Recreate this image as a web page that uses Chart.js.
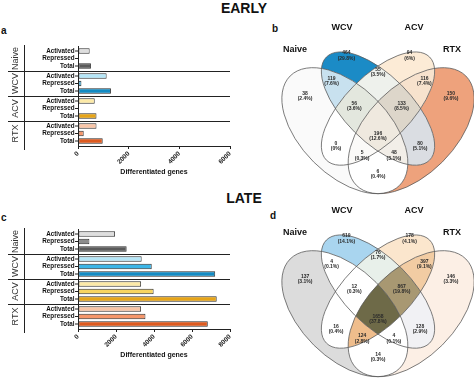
<!DOCTYPE html>
<html>
<head>
<meta charset="utf-8">
<script src="https://cdn.jsdelivr.net/npm/chart.js@4.4.0/dist/chart.umd.min.js"></script>
<style>
  html,body{margin:0;padding:0;background:#fff;}
  body{width:474px;height:379px;position:relative;overflow:hidden;font-family:"Liberation Sans",Arial,sans-serif;}
  canvas{position:absolute;}
  .t{position:absolute;font-weight:bold;color:#111;white-space:nowrap;line-height:1;}
  .big{font-size:14px;width:474px;text-align:center;left:7px;}
  .lab{font-size:10px;}
</style>
</head>
<body>
<div class="t big" style="top:1px">EARLY</div>
<div class="t big" style="top:191px">LATE</div>
<div class="t lab" style="left:1px;top:26px">a</div>
<div class="t lab" style="left:272px;top:24px">b</div>
<div class="t lab" style="left:1px;top:213px">c</div>
<div class="t lab" style="left:270px;top:211px">d</div>

<canvas id="barEarly" width="240" height="155" style="left:0;top:30px"></canvas>
<canvas id="barLate" width="240" height="155" style="left:0;top:213px"></canvas>
<canvas id="vennEarly" width="204" height="180" style="left:270px;top:20px"></canvas>
<canvas id="vennLate" width="204" height="176" style="left:270px;top:203px"></canvas>

<script>
// ===== DATA =====
const groups = ["Naive", "WCV", "ACV", "RTX"];
const series = ["Activated", "Repressed", "Total"];

const earlyActivated = [460, 1130, 660, 730];
const earlyRepressed = [15, 135, 20, 225];
const earlyTotal = [510, 1300, 730, 975];

const lateActivated = [1950, 3350, 3320, 3320];
const lateRepressed = [600, 3880, 3980, 3550];
const lateTotal = [2560, 7220, 7300, 6830];

const earlyMax = 6000;
const lateMax = 8000;
const tickStep = 2000;

// venn: N = Naive, W = WCV, A = ACV, R = RTX
const vennSets = ["Naive", "WCV", "ACV", "RTX"];
const vennKeys = ["N", "W", "A", "R"];
const regions = ["N", "W", "A", "R", "NW", "WA", "AR", "NWA", "WAR", "NWAR", "NA", "WR", "NAR", "NWR", "NR"];

const earlyCounts = [38, 464, 94, 150, 119, 55, 116, 56, 133, 196, 0, 80, 5, 48, 6];
const earlyPct = ["2.4%", "29.8%", "6%", "9.6%", "7.6%", "3.5%", "7.4%", "3.6%", "8.5%", "12.6%", "0%", "5.1%", "0.3%", "3.1%", "0.4%"];

const lateCounts = [137, 619, 178, 146, 4, 76, 397, 12, 867, 1658, 16, 128, 124, 4, 14];
const latePct = ["3.1%", "14.1%", "4.1%", "3.3%", "0.1%", "1.7%", "9.1%", "0.3%", "19.8%", "37.8%", "0.4%", "2.9%", "2.8%", "0.1%", "0.3%"];

// ===== STYLES =====
const fillActivated = ["#dedede", "#b7e7f8", "#fdeaa8", "#f9c6a8"];
const fillRepressed = ["#8c8c8c", "#3cb6e8", "#f8d460", "#f5976c"];
const fillTotal = ["#5a5a5a", "#138bc3", "#e6a418", "#dd5a1f"];

const earlyRegionFill = ["#fafafa", "#1b8bc6", "#fcebd6", "#eea27c", "#c8e1ef", "#eef1ec", "#f7e2cd",
  "#e3e7de", "#ddd6ca", "#efe9df", "#ffffff", "#dadde2", "#fbfaf8", "#f2eee8", "#ffffff"];
const lateRegionFill = ["#dcdcdc", "#a9d5ef", "#fbe6cd", "#fcefe5", "#ffffff", "#e8f0ea", "#f2cca3",
  "#ffffff", "#a89872", "#6e6a48", "#ffffff", "#f1f1f4", "#efbd8c", "#ffffff", "#ffffff"];

const FONT = "'Liberation Sans', Arial, sans-serif";

// ===== LAYOUT (venn geometry, unit square, y up) =====
const ellipses = [
  {cx: 0.35, cy: 0.47, a: 0.35, b: 0.20, rot: 135},
  {cx: 0.50, cy: 0.57, a: 0.33, b: 0.15, rot: 135},
  {cx: 0.50, cy: 0.57, a: 0.33, b: 0.15, rot: 45},
  {cx: 0.65, cy: 0.47, a: 0.35, b: 0.20, rot: 45}
];
const regionSpot = [
  [0.17, 0.625], [0.357, 0.81], [0.643, 0.81], [0.83, 0.625],
  [0.29, 0.693], [0.5, 0.735], [0.71, 0.693],
  [0.393, 0.58], [0.607, 0.58], [0.5, 0.445],
  [0.31, 0.40], [0.69, 0.40], [0.428, 0.357], [0.572, 0.357], [0.5, 0.274]
];
const setTitleSpot = [[0.124, 0.835], [0.337, 0.935], [0.663, 0.935], [0.835, 0.835]];

// ===== BAR CHART LABELS =====
const rowLabels = {
  id: "rowLabels",
  afterDraw(chart) {
    const {ctx, chartArea: a} = chart;
    const y = chart.scales.y;
    ctx.save();
    ctx.strokeStyle = "#222";
    ctx.fillStyle = "#111";
    ctx.lineWidth = 1;
    ctx.font = "bold 6.3px " + FONT;
    ctx.textAlign = "right";
    ctx.textBaseline = "middle";
    chart.data.datasets.forEach((ds, i) => {
      chart.getDatasetMeta(i).data.forEach(bar => {
        ctx.fillText(ds.label, a.left - 3.5, bar.y);
        ctx.beginPath();
        ctx.moveTo(a.left - 3, bar.y);
        ctx.lineTo(a.left, bar.y);
        ctx.stroke();
      });
    });

    // separators between groups
    for (let j = 0; j < groups.length - 1; j++) {
      const yy = Math.round((y.getPixelForValue(j) + y.getPixelForValue(j + 1)) / 2) + 0.5;
      ctx.beginPath();
      ctx.moveTo(8, yy);
      ctx.lineTo(a.right, yy);
      ctx.stroke();
    }
    ctx.beginPath();
    ctx.moveTo(24.5, a.top - 1);
    ctx.lineTo(24.5, a.bottom + 4);
    ctx.stroke();

    // group names, rotated
    ctx.font = "9px " + FONT;
    ctx.fillStyle = "#333";
    ctx.textAlign = "center";
    groups.forEach((g, j) => {
      ctx.save();
      ctx.translate(16, y.getPixelForValue(j));
      ctx.rotate(-Math.PI / 2);
      ctx.fillText(g, 0, 0);
      ctx.restore();
    });
    ctx.restore();
  }
};

function barChart(id, acts, reps, tots, maxV) {
  const ctx = document.getElementById(id).getContext("2d");
  const common = {borderColor: "#2b2b2b", borderWidth: 0.9, borderSkipped: false,
    categoryPercentage: 0.9, barPercentage: 0.72};
  return new Chart(ctx, {
    type: "bar",
    data: {
      labels: groups,
      datasets: [
        {label: series[0], data: acts, backgroundColor: fillActivated, ...common},
        {label: series[1], data: reps, backgroundColor: fillRepressed, ...common},
        {label: series[2], data: tots, backgroundColor: fillTotal, ...common}
      ]
    },
    options: {
      indexAxis: "y",
      responsive: false,
      animation: false,
      layout: {padding: {top: 16, right: 10, left: 0, bottom: 0}},
      plugins: {legend: {display: false}, tooltip: {enabled: false}},
      scales: {
        y: {
          grid: {display: false},
          border: {display: true, color: "#222", width: 1},
          ticks: {display: false},
          afterFit: s => { s.width = 78; }
        },
        x: {
          min: 0,
          max: maxV,
          ticks: {stepSize: tickStep, minRotation: 45, maxRotation: 45, padding: 1,
            callback: v => String(v),
            color: "#222", font: {family: FONT, size: 6.5, weight: "bold"}},
          grid: {drawOnChartArea: false, drawTicks: true, tickLength: 3, color: "#222"},
          border: {color: "#222", width: 1},
          title: {display: true, text: "Differentiated genes", color: "#111",
            font: {family: FONT, size: 7, weight: "bold"}, padding: {top: 0, bottom: 9}},
          afterFit: s => { s.height = 39; }
        }
      }
    },
    plugins: [rowLabels]
  });
}

// ===== VENN =====
function ellPath(chart, e) {
  const ctx = chart.ctx, x = chart.scales.x, y = chart.scales.y;
  const sx = x.getPixelForValue(1) - x.getPixelForValue(0);
  const sy = y.getPixelForValue(0) - y.getPixelForValue(1);
  ctx.beginPath();
  ctx.ellipse(x.getPixelForValue(e.cx), y.getPixelForValue(e.cy), e.a * sx, e.b * sy,
    -e.rot * Math.PI / 180, 0, 2 * Math.PI);
}

const vennDraw = {
  id: "vennDraw",
  beforeDatasetsDraw(chart) {
    const ctx = chart.ctx, W = chart.width, H = chart.height;
    const fills = chart.options.regionFill;
    regions.forEach((r, k) => {
      ctx.save();
      vennKeys.forEach((key, i) => {
        ellPath(chart, ellipses[i]);
        if (r.includes(key)) {
          ctx.clip();
        } else {
          ctx.rect(0, 0, W, H);
          ctx.clip("evenodd");
        }
      });
      ctx.fillStyle = fills[k];
      ctx.fillRect(0, 0, W, H);
      ctx.restore();
    });
    ctx.save();
    ctx.strokeStyle = "#5a5a5a";
    ctx.lineWidth = 0.8;
    ellipses.forEach(e => { ellPath(chart, e); ctx.stroke(); });
    ctx.restore();
  },
  afterDatasetsDraw(chart) {
    const ctx = chart.ctx, x = chart.scales.x, y = chart.scales.y;
    const counts = chart.options.counts, pct = chart.options.pct;
    ctx.save();
    ctx.fillStyle = "#2a2a2a";
    ctx.font = "bold 5px " + FONT;
    ctx.textAlign = "center";
    ctx.textBaseline = "middle";
    chart.getDatasetMeta(0).data.forEach((pt, k) => {
      ctx.fillText(String(counts[k]), pt.x, pt.y - 2.7);
      ctx.fillText("(" + pct[k] + ")", pt.x, pt.y + 2.7);
    });
    ctx.fillStyle = "#111";
    ctx.font = "bold 9px " + FONT;
    vennSets.forEach((s, i) => {
      ctx.fillText(s, x.getPixelForValue(setTitleSpot[i][0]), y.getPixelForValue(setTitleSpot[i][1]));
    });
    ctx.restore();
  }
};

function vennChart(id, counts, pct, fills, yMin) {
  const ctx = document.getElementById(id).getContext("2d");
  return new Chart(ctx, {
    type: "scatter",
    data: {
      datasets: [{data: regionSpot.map(p => ({x: p[0], y: p[1]})), pointRadius: 0}]
    },
    options: {
      responsive: false,
      animation: false,
      counts: counts,
      pct: pct,
      regionFill: fills,
      layout: {padding: 0},
      plugins: {legend: {display: false}, tooltip: {enabled: false}},
      scales: {
        x: {type: "linear", min: 0.01131, max: 0.93439, display: false},
        y: {type: "linear", min: yMin, max: 0.9708, display: false}
      }
    },
    plugins: [vennDraw]
  });
}

// ===== RUN =====
barChart("barEarly", earlyActivated, earlyRepressed, earlyTotal, earlyMax);
barChart("barLate", lateActivated, lateRepressed, lateTotal, lateMax);
vennChart("vennEarly", earlyCounts, earlyPct, earlyRegionFill, 0.1563);
vennChart("vennLate", lateCounts, latePct, lateRegionFill, 0.1744);
</script>
</body>
</html>
